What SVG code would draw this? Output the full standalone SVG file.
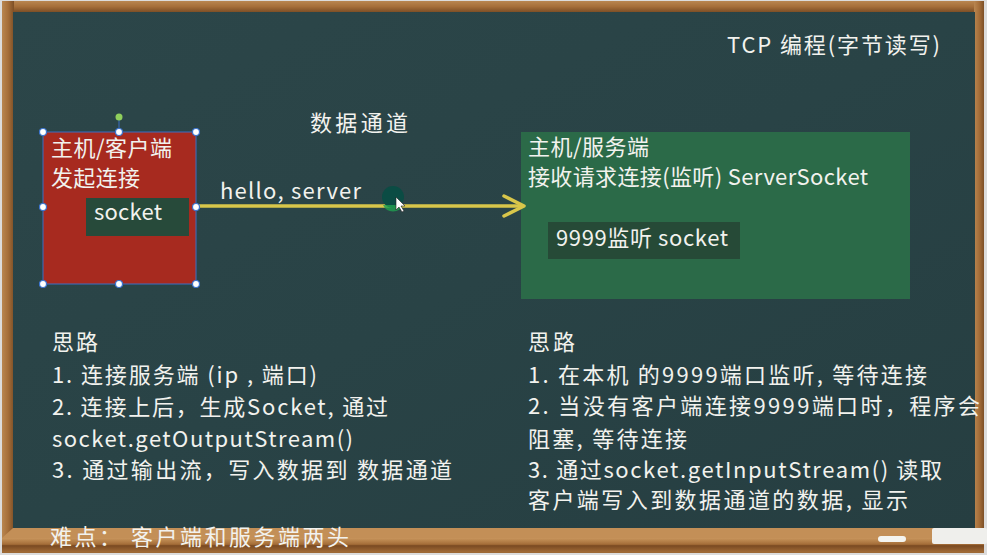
<svg xmlns="http://www.w3.org/2000/svg" width="987" height="555" viewBox="0 0 987 555">
<defs>
<linearGradient id="board" x1="0" y1="0" x2="1" y2="1">
<stop offset="0" stop-color="#2c4649"/>
<stop offset="0.5" stop-color="#294346"/>
<stop offset="1" stop-color="#263e41"/>
</linearGradient>
<linearGradient id="woodH" x1="0" y1="0" x2="0" y2="1">
<stop offset="0" stop-color="#b98650"/>
<stop offset="0.5" stop-color="#a66f3a"/>
<stop offset="1" stop-color="#7d4f26"/>
</linearGradient>
<linearGradient id="woodV" x1="0" y1="0" x2="1" y2="0">
<stop offset="0" stop-color="#b98650"/>
<stop offset="0.5" stop-color="#a66f3a"/>
<stop offset="1" stop-color="#7d4f26"/>
</linearGradient>
<linearGradient id="tray" x1="0" y1="0" x2="0" y2="1">
<stop offset="0" stop-color="#c8955c"/>
<stop offset="0.45" stop-color="#a46d38"/>
<stop offset="0.55" stop-color="#7a4a22"/>
<stop offset="1" stop-color="#a06a36"/>
</linearGradient>
<marker id="chev" viewBox="0 0 24 24" refX="22" refY="12" markerWidth="24" markerHeight="24" markerUnits="userSpaceOnUse" orient="auto">
<path d="M2,2 L22,12 L2,22" fill="none" stroke="#d8c64a" stroke-width="3.5" stroke-linecap="round" stroke-linejoin="round"/>
</marker>
</defs>
<style>
text{font-family:"Noto Sans CJK SC","Noto Sans",sans-serif;fill:#f2f2ee;font-size:22px}
.h{fill:#ffffff;stroke:#3b74d0;stroke-width:1.2}
</style>
<g id="frame">
<rect x="0" y="0" width="987" height="555" fill="#dcdcdc"/>
<rect x="2" y="1" width="982" height="552" fill="#9d6834"/>
<rect x="2" y="1" width="982" height="11" fill="url(#woodH)"/>
<rect x="2" y="1" width="12" height="540" fill="url(#woodV)"/>
<rect x="974" y="1" width="10" height="540" fill="url(#woodV)"/>
<rect x="13" y="12" width="962" height="516" fill="url(#board)"/>
<polygon points="13,528 975,528 984,538 2,538" fill="#c38f57"/>
<rect x="2" y="538" width="982" height="14" fill="url(#tray)"/>
<rect x="878" y="536" width="28" height="6" rx="3" fill="#f4f4f0"/>
<rect x="932" y="528" width="55" height="16" rx="2" fill="#efefec"/>
</g>
<g id="title">
<text x="727" y="53" textLength="213">TCP 编程(字节读写)</text>
</g>
<g id="channel-label">
<text x="310" y="131" textLength="98">数据通道</text>
</g>
<g id="client">
<rect x="43" y="132" width="153" height="152" fill="#a72a1f" stroke="#3b6fc4" stroke-width="1"/>
<text x="51" y="156" textLength="121">主机/客户端</text>
<text x="51" y="186" textLength="89">发起连接</text>
<line x1="119" y1="118" x2="119" y2="132" stroke="#3b6fc4" stroke-width="1"/>
<circle cx="119" cy="117" r="3.5" fill="#8fcf5c"/>
<circle class="h" cx="43" cy="132" r="3.5"/>
<circle class="h" cx="119" cy="132" r="3.5"/>
<circle class="h" cx="196" cy="132" r="3.5"/>
<circle class="h" cx="43" cy="207" r="3.5"/>
<circle class="h" cx="43" cy="284" r="3.5"/>
<circle class="h" cx="119" cy="284" r="3.5"/>
<circle class="h" cx="196" cy="284" r="3.5"/>
</g>
<g id="client-socket">
<rect x="86" y="198" width="103" height="38" fill="#274a3a"/>
<text x="94" y="220" textLength="68">socket</text>
</g>
<g id="server">
<rect x="521" y="132" width="389" height="167" fill="#2b6a48"/>
<text x="528" y="155" textLength="121">主机/服务端</text>
<text x="528" y="185" textLength="340">接收请求连接(监听) ServerSocket</text>
</g>
<g id="server-socket">
<rect x="548" y="222" width="192" height="37" fill="#264a37"/>
<text x="556" y="246" textLength="172">9999监听 socket</text>
</g>
<g id="connectors">
<line x1="196" y1="206" x2="524" y2="206" stroke="#d8c64a" stroke-width="3.5" marker-end="url(#chev)"/>
<text x="220" y="199" textLength="141">hello, server</text>
<circle class="h" cx="196" cy="207" r="3.5"/>
</g>
<g id="cursor">
<circle cx="393" cy="197" r="11" fill="#0b4c44"/>
<path d="M383,205 A11,11 0 0 0 403,205 Z" fill="#1fa050" opacity="0.8"/>
<path d="M396,197 L396,210 L399,207 L402,212 L404,211 L401,206 L405,206 Z" fill="#ffffff" stroke="#222" stroke-width="0.6"/>
</g>
<g id="client-notes">
<text x="52" y="350" textLength="46">思路</text>
<text x="52" y="383" textLength="265">1. 连接服务端 (ip , 端口)</text>
<text x="52" y="415" textLength="336">2. 连接上后，生成Socket, 通过</text>
<text x="52" y="447" textLength="301">socket.getOutputStream()</text>
<text x="52" y="478" textLength="400">3. 通过输出流，写入数据到 数据通道</text>
</g>
<g id="server-notes">
<text x="528" y="350" textLength="47">思路</text>
<text x="528" y="383" textLength="399">1. 在本机 的9999端口监听, 等待连接</text>
<text x="528" y="414" textLength="452">2. 当没有客户端连接9999端口时，程序会</text>
<text x="528" y="447" textLength="159">阻塞, 等待连接</text>
<text x="528" y="478" textLength="414">3. 通过socket.getInputStream() 读取</text>
<text x="528" y="508" textLength="380">客户端写入到数据通道的数据, 显示</text>
</g>
<g id="difficulty">
<text x="50" y="545" textLength="299">难点：  客户端和服务端两头</text>
</g>
</svg>
